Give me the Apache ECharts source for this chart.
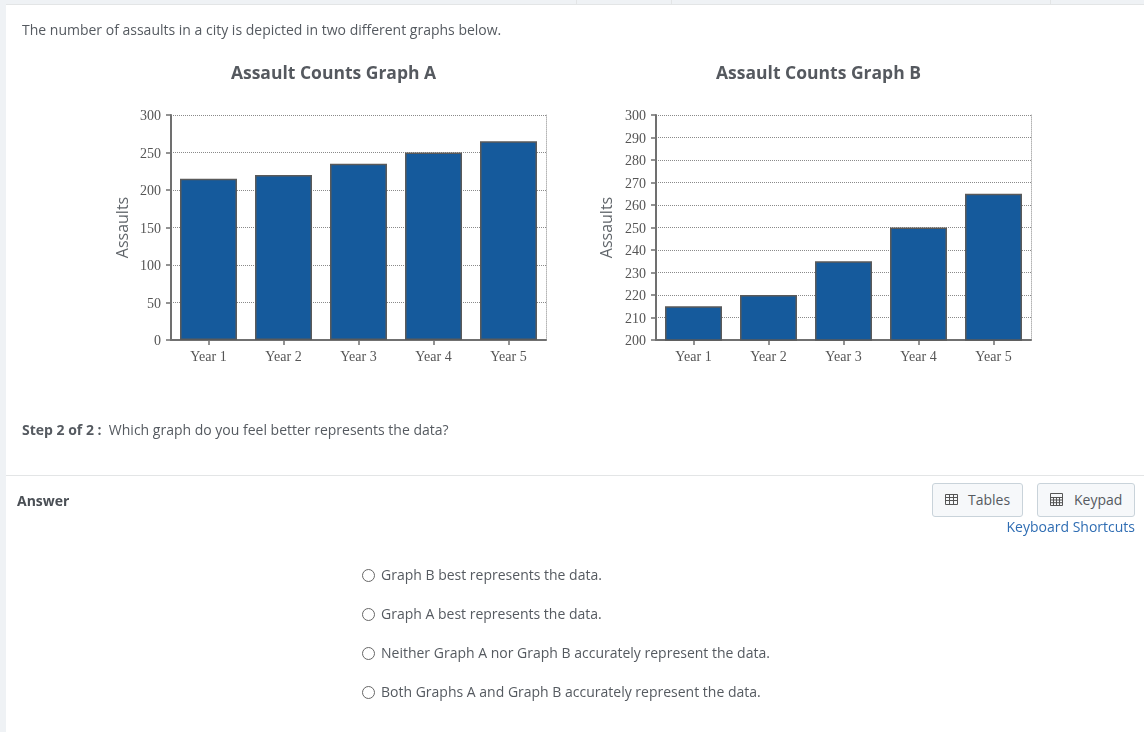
<!DOCTYPE html>
<html><head><meta charset="utf-8">
<script src="https://cdn.jsdelivr.net/npm/echarts@6/dist/echarts.min.js"></script>
<style>
html,body{margin:0;padding:0;background:#fff;width:1144px;height:732px;overflow:hidden;font-family:"Open Sans",sans-serif;color:#555a60}
#chart{position:absolute;left:0;top:0;width:1144px;height:732px}
.t{position:absolute;white-space:nowrap;font-size:14px;line-height:20px}
.strip{position:absolute;background:#eff2f5}
.rule{position:absolute;background:#e3e5e6}
.radio{position:absolute;left:362px;width:11px;height:11px;border:1px solid #666;border-radius:50%;background:#fff}
.btn{position:absolute;top:483px;height:32px;border:1px solid #c9d3da;border-radius:3px;background:#f6f8fa}
.btn svg{position:absolute;left:12px;top:9px}
.btn span{position:absolute;top:6px;font-size:14px;line-height:20px;color:#555a60}
</style></head><body>
<div id="chart"></div>
<div class="strip" style="left:0;top:0;width:1144px;height:4px"></div>
<div class="strip" style="left:0;top:0;width:6px;height:732px"></div>
<div class="rule" style="left:6px;top:4px;width:1138px;height:1px"></div>
<div class="rule" style="left:576px;top:0;width:1px;height:4px"></div>
<div class="rule" style="left:671px;top:0;width:1px;height:4px"></div>
<div class="rule" style="left:1050px;top:0;width:1px;height:4px"></div>
<div class="t" style="left:22px;top:20px">The number of assaults in a city is depicted in two different graphs below.</div>
<div class="t" style="left:22px;top:420px"><b>Step 2 of 2 :</b>&nbsp; Which graph do you feel better represents the data?</div>
<div class="rule" style="left:6px;top:475px;width:1138px;height:1px"></div>
<div class="t" style="left:17px;top:491px;font-weight:700;color:#4a4f55">Answer</div>
<div class="btn" style="left:932px;width:89px"><svg width="13" height="13" viewBox="0 0 13 13"><path d="M.5 1.5h12v10H.5zM.5 4.5h12M.5 7.5h12M4.5 1.5v10M8.5 1.5v10" fill="none" stroke="#555" stroke-width="1"/></svg><span style="left:35px">Tables</span></div>
<div class="btn" style="left:1037px;width:96px"><svg width="13" height="13" viewBox="0 0 13 13"><path d="M.5.5h12v12H.5zM.5 4.5h12M.5 7h12M.5 9.7h12M3.5 4.5v8M6.5 4.5v8M9.5 4.5v8" fill="none" stroke="#555" stroke-width="1"/></svg><span style="left:36px">Keypad</span></div>
<div class="t" style="right:9px;top:517px;color:#2f6db3">Keyboard Shortcuts</div>
<div class="radio" style="top:569px"></div><div class="t" style="left:381px;top:565px">Graph B best represents the data.</div>
<div class="radio" style="top:608px"></div><div class="t" style="left:381px;top:604px">Graph A best represents the data.</div>
<div class="radio" style="top:647px"></div><div class="t" style="left:381px;top:643px">Neither Graph A nor Graph B accurately represent the data.</div>
<div class="radio" style="top:686px"></div><div class="t" style="left:381px;top:682px">Both Graphs A and Graph B accurately represent the data.</div>
<script>
const categories = ["Year 1","Year 2","Year 3","Year 4","Year 5"];
const assaults = [215,220,235,250,265];
const titleA = "Assault Counts Graph A";
const titleB = "Assault Counts Graph B";
const yTitle = "Assaults";
const rangeA = {min:0,max:300,interval:50};
const rangeB = {min:200,max:300,interval:10};

const axisGrey = "#707070";
const lab = {fontFamily:"Liberation Serif",fontSize:14,color:"#555"};
const grids = [
  {left:171,top:115,width:375,height:225},
  {left:656,top:115,width:375,height:225}
];
const xAxes = grids.map((g,i)=>({
  type:"category",gridIndex:i,data:categories,
  axisLine:{show:true,onZero:false,lineStyle:{color:axisGrey,width:2}},
  axisTick:{show:true,alignWithLabel:true,length:5,lineStyle:{color:axisGrey,width:1.5}},
  axisLabel:{...lab,margin:10,interval:0},
  splitLine:{show:false}
}));
const ranges=[rangeA,rangeB];
const yAxes=[];
ranges.forEach((r,i)=>{
  yAxes.push({
    type:"value",gridIndex:i,position:"left",...r,
    name:yTitle,nameLocation:"middle",nameGap:i===0?40:41,
    nameTextStyle:{fontFamily:"Open Sans",fontSize:16,color:"#60656a"},
    axisLine:{show:true,onZero:false,lineStyle:{color:axisGrey,width:2}},
    axisTick:{show:true,length:5,lineStyle:{color:axisGrey,width:1.5}},
    axisLabel:{...lab,margin:10,verticalAlign:"top",lineHeight:3},
    splitLine:{show:true,lineStyle:{color:"#8a8a8a",type:[1,1],width:1}}
  });
  yAxes.push({
    type:"value",gridIndex:i,position:"right",...r,
    axisLine:{show:true,onZero:false,lineStyle:{color:"#b5b5b5",type:[1,1],width:1}},
    axisTick:{show:false},axisLabel:{show:false},splitLine:{show:false}
  });
});
const barSeries=[0,1].map(i=>({
  type:"bar",xAxisIndex:i,yAxisIndex:i*2,data:assaults,barWidth:57,silent:true,animation:false,
  itemStyle:{color:"#155a9c",borderColor:"#5a5a5a",borderWidth:1.5}
}));
const chart=echarts.init(document.getElementById("chart"),null,{renderer:"canvas"});
chart.setOption({
  animation:false,
  title:[
    {text:titleA,left:328.5,top:60,textAlign:"center",textStyle:{fontFamily:"Open Sans",fontWeight:"bold",fontSize:17.5,color:"#55595f"}},
    {text:titleB,left:813.5,top:60,textAlign:"center",textStyle:{fontFamily:"Open Sans",fontWeight:"bold",fontSize:17.5,color:"#55595f"}}
  ],
  grid:grids,xAxis:xAxes,yAxis:yAxes,series:barSeries
});
</script>
</body></html>
